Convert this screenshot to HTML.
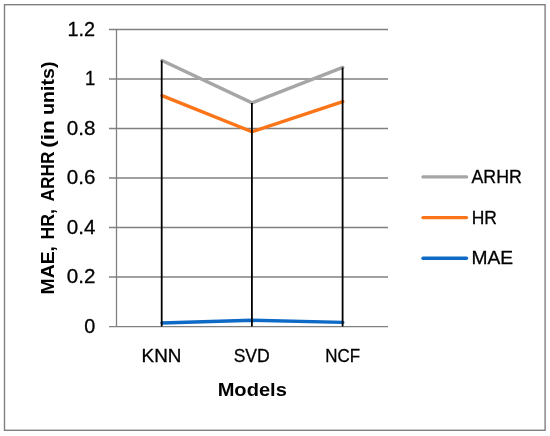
<!DOCTYPE html>
<html>
<head>
<meta charset="utf-8">
<title>Models chart</title>
<style>
html,body{margin:0;padding:0;background:#fff;}
body{width:550px;height:436px;overflow:hidden;}
svg{display:block;filter:blur(0.4px);font-family:"Liberation Sans",sans-serif;fill:#000;}
text{stroke:#000;stroke-width:0.3px;}
text[stroke="none"]{stroke:none;}
</style>
</head>
<body>
<svg width="550" height="436" viewBox="0 0 550 436">
<rect x="0" y="0" width="550" height="436" fill="#ffffff"/>
<rect x="4.5" y="4.7" width="540.6" height="425.6" fill="none" stroke="#808080" stroke-width="1.4"/>
<!-- gridlines -->
<g stroke="#808080" stroke-width="1.4" fill="none">
<line x1="109" y1="29.5" x2="388" y2="29.5"/>
<line x1="109" y1="79" x2="388" y2="79"/>
<line x1="109" y1="128.5" x2="388" y2="128.5"/>
<line x1="109" y1="178" x2="388" y2="178"/>
<line x1="109" y1="227.5" x2="388" y2="227.5"/>
<line x1="109" y1="277" x2="388" y2="277"/>
<line x1="109" y1="326.6" x2="388" y2="326.6"/>
<line x1="116.5" y1="29.5" x2="116.5" y2="326.6" stroke-width="1.3"/>
</g>
<!-- series -->
<g fill="none" stroke-width="3.4" stroke-linecap="round" stroke-linejoin="miter">
<polyline stroke="#0F6AC6" points="162,323 252,320.3 342.8,322.4"/>
<polyline stroke="#FB7518" points="162,95.6 252,131.8 342.8,101.6"/>
<polyline stroke="#A6A6A6" points="162,60.5 252,102.9 342.8,67.4"/>
</g>
<!-- drop lines -->
<g stroke="#000" stroke-width="1.8" fill="none">
<line x1="161.7" y1="60.5" x2="161.7" y2="326.6"/>
<line x1="251.9" y1="102.9" x2="251.9" y2="326.6"/>
<line x1="342.6" y1="67.4" x2="342.6" y2="326.6"/>
</g>
<!-- y labels -->
<g font-size="19.8" text-anchor="end">
<text x="95.1" y="36" textLength="27.6" lengthAdjust="spacingAndGlyphs">1.2</text>
<text x="95.4" y="85" textLength="10.3" lengthAdjust="spacingAndGlyphs">1</text>
<text x="95.4" y="135" textLength="28.6" lengthAdjust="spacingAndGlyphs">0.8</text>
<text x="95.4" y="184" textLength="28.6" lengthAdjust="spacingAndGlyphs">0.6</text>
<text x="95.4" y="234" textLength="28.6" lengthAdjust="spacingAndGlyphs">0.4</text>
<text x="95.4" y="283" textLength="28.6" lengthAdjust="spacingAndGlyphs">0.2</text>
<text x="95.3" y="333">0</text>
</g>
<!-- x labels -->
<g font-size="18.9" text-anchor="middle">
<text x="161.5" y="361.6" textLength="39.8" lengthAdjust="spacingAndGlyphs">KNN</text>
<text x="251.7" y="361.6" textLength="36.1" lengthAdjust="spacingAndGlyphs">SVD</text>
<text x="342.6" y="361.6" textLength="34.8" lengthAdjust="spacingAndGlyphs">NCF</text>
</g>
<text x="252.25" y="395.9" font-size="18.4" font-weight="bold" stroke="none" text-anchor="middle" textLength="69.2" lengthAdjust="spacingAndGlyphs">Models</text>
<g font-size="18.4" font-weight="bold" stroke="none">
<text transform="translate(54.2,294.5) rotate(-90)" stroke="none" textLength="48.5" lengthAdjust="spacingAndGlyphs">MAE,</text>
<text transform="translate(54.2,239.5) rotate(-90)" stroke="none" textLength="30.5" lengthAdjust="spacingAndGlyphs">HR,</text>
<text transform="translate(54.2,201.5) rotate(-90)" stroke="none" textLength="50" lengthAdjust="spacingAndGlyphs">ARHR</text>
<text transform="translate(54.2,148) rotate(-90)" stroke="none" textLength="28" lengthAdjust="spacingAndGlyphs">(in</text>
<text transform="translate(54.2,115) rotate(-90)" stroke="none" textLength="53.5" lengthAdjust="spacingAndGlyphs">units)</text>
</g>
<!-- legend -->
<g fill="none" stroke-width="3.4" stroke-linecap="round">
<line stroke="#A6A6A6" x1="423" y1="176.9" x2="466.5" y2="176.9"/>
<line stroke="#FB7518" x1="423" y1="217.6" x2="466.5" y2="217.6"/>
<line stroke="#0F6AC6" x1="423" y1="258.2" x2="466.5" y2="258.2"/>
</g>
<g font-size="18.9">
<text x="471.5" y="183.3" textLength="50.4" lengthAdjust="spacingAndGlyphs">ARHR</text>
<text x="471.7" y="223.6" textLength="25.2" lengthAdjust="spacingAndGlyphs">HR</text>
<text x="471.4" y="264.4" textLength="41.6" lengthAdjust="spacingAndGlyphs">MAE</text>
</g>
</svg>
</body>
</html>
